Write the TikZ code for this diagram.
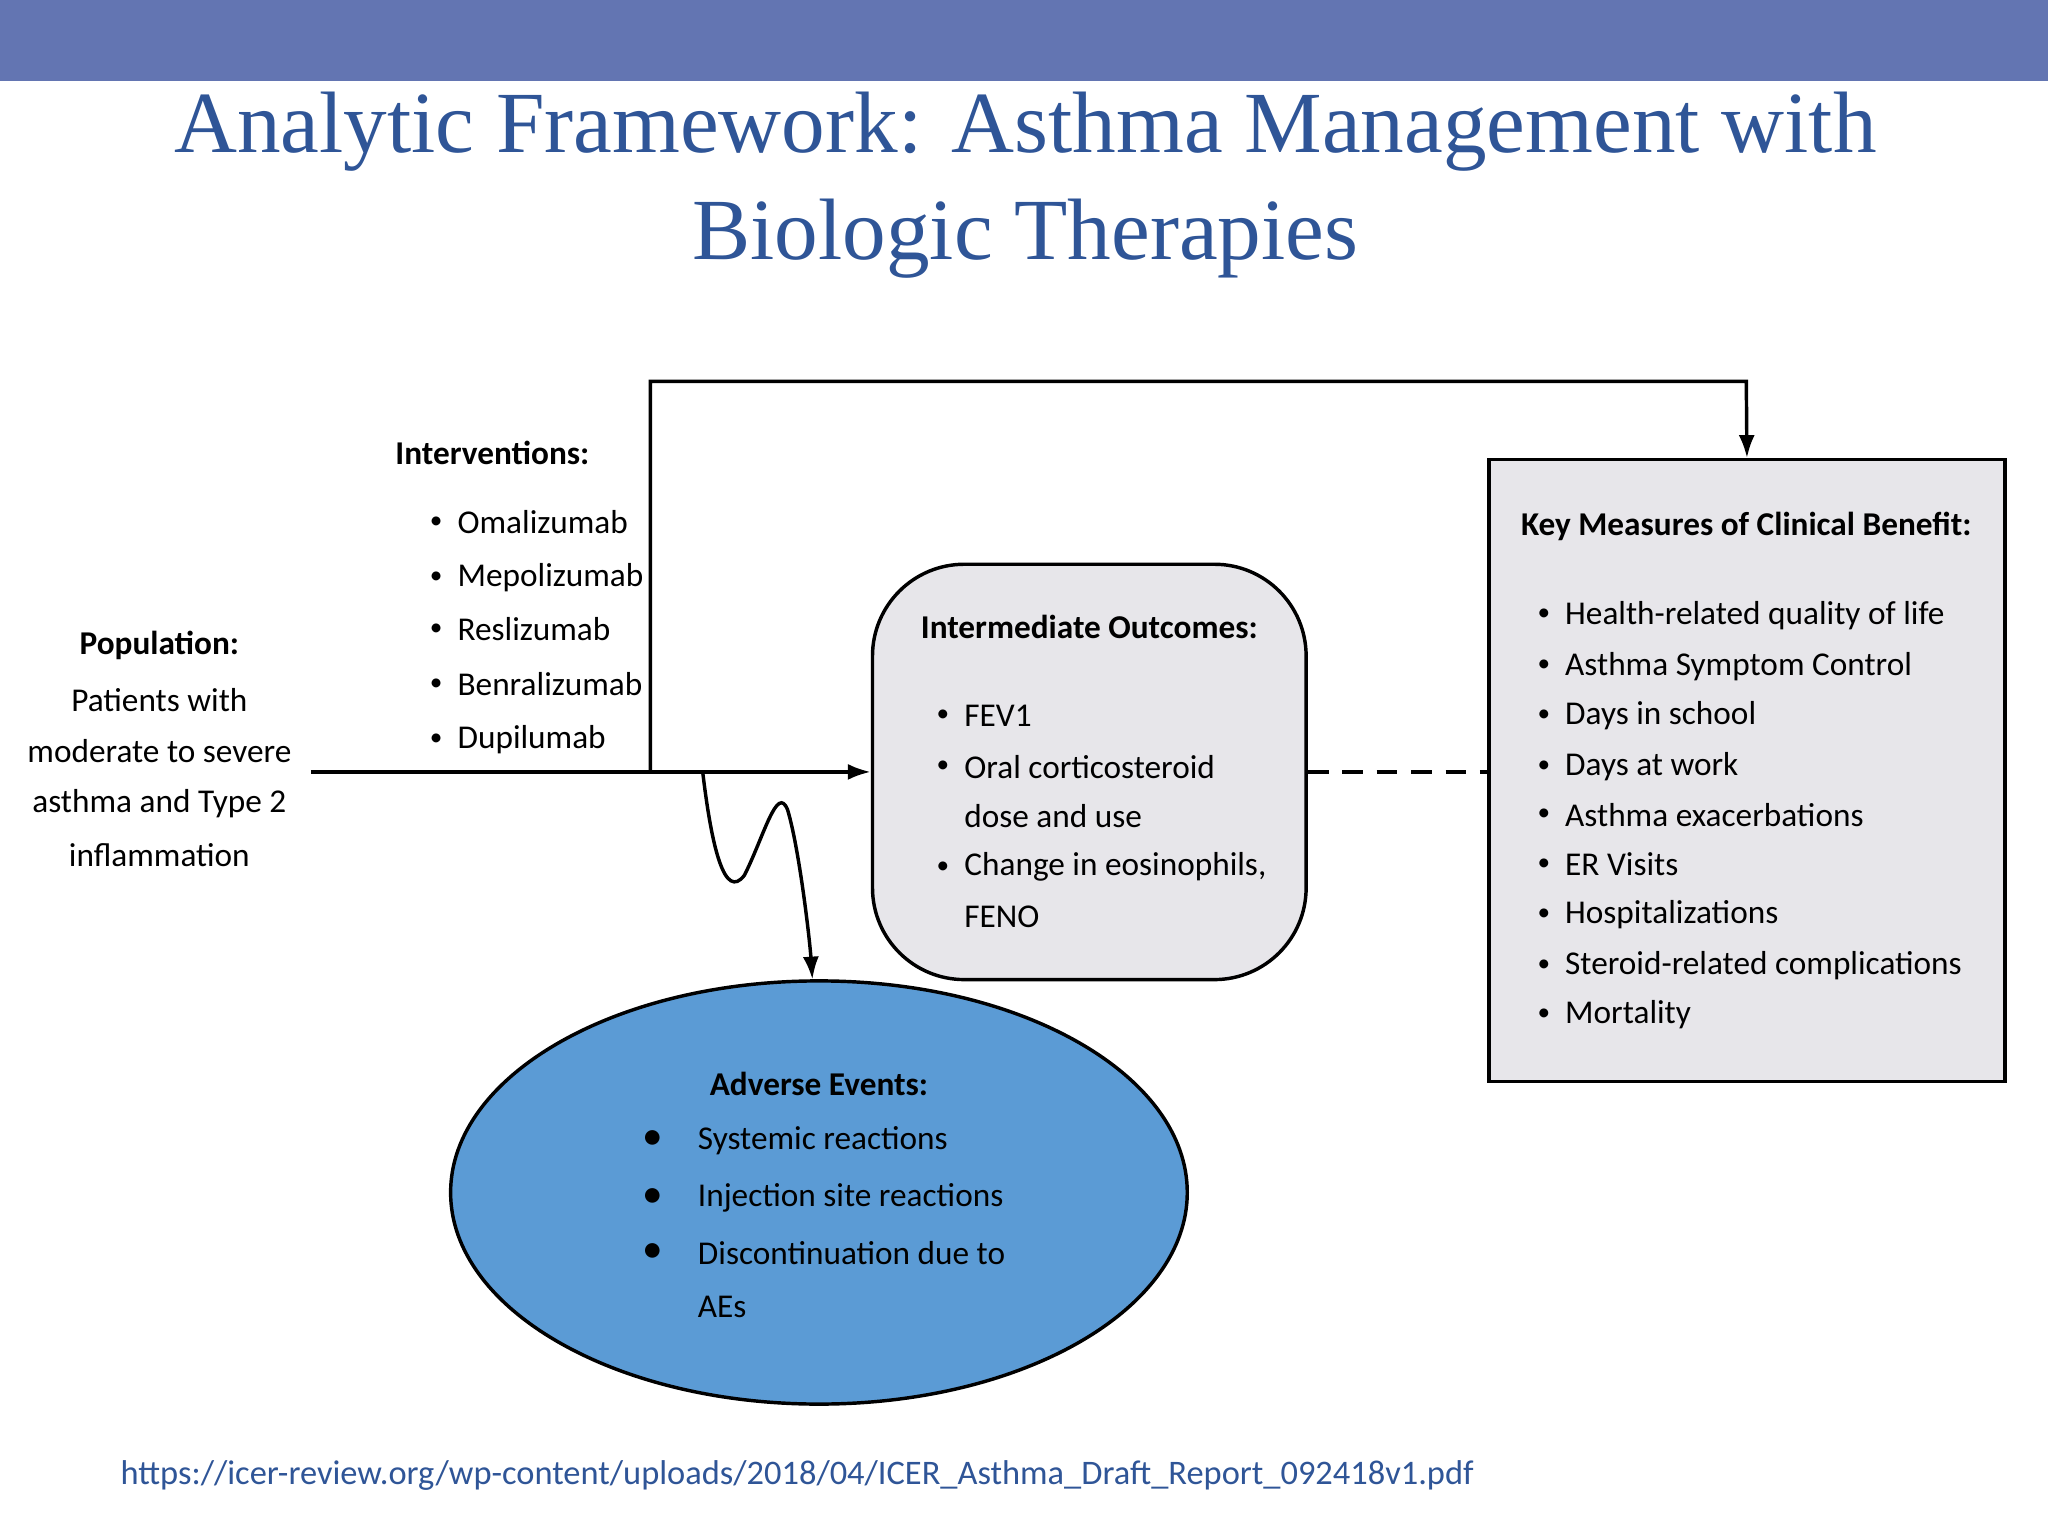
\documentclass[tikz,border=0pt]{standalone}
\usepackage{fontspec}
\setmainfont{Carlito}
\newfontfamily\titlefont{Liberation Serif}
\usetikzlibrary{arrows.meta,shapes.geometric}
\definecolor{barblue}{RGB}{99,117,178}
\definecolor{titleblue}{RGB}{47,85,151}
\definecolor{boxgray}{RGB}{231,230,234}
\definecolor{aeblue}{RGB}{91,155,213}
\begin{document}
\begin{tikzpicture}[x=0.02cm,y=-0.02cm,
  txt/.style={font=\fontsize{14.5}{18}\selectfont,inner sep=0pt},
  bul/.style={font=\fontsize{11}{18}\selectfont,inner sep=0pt},
  hd/.style={font=\fontsize{14.5}{18}\selectfont\bfseries,inner sep=0pt},
  tl/.style={font=\titlefont\fontsize{38}{44}\selectfont,text=titleblue,inner sep=0pt},
  line/.style={line width=1.5pt},
  arr/.style={line width=1.5pt,-{Latex[length=10pt,width=7pt]}}]
\useasboundingbox (0,0) rectangle (1568,1176);
\fill[barblue] (0,0) rectangle (1568,62);
\node[tl] (t1) at (785,101) {Analytic Framework: Asthma Management with};
\node[tl] (t2) at (785,183) {Biologic Therapies};
% population
\node[hd] (pop) at (122,494) {Population:};
\foreach \t/\y in {Patients with/536,moderate to severe/575,asthma and Type 2/615,inflammation/655}
  \node[txt] at (122,\y) {\t};
% interventions
\node[hd] (int) at (377,347) {Interventions:};
\foreach \t/\y in {Omalizumab/400,Mepolizumab/442,Reslizumab/482,Benralizumab/524,Dupilumab/566}{
  \node[bul] at (334,\y) {•};
  \node[txt,anchor=west] at (350,\y) {\t};}
% intermediate box
\node[draw,line width=1.5pt,fill=boxgray,rounded corners=40pt,minimum width=332*0.02cm,minimum height=318*0.02cm] (mid) at (834,591) {};
\node[hd] (midt) at (834,480) {Intermediate Outcomes:};
\foreach \y in {548,587,664}
  \node[bul] at (722,\y) {•};
\foreach \t/\y in {FEV1/548,Oral corticosteroid/587,dose and use/625,{Change in eosinophils,}/664,FENO/702}
  \node[txt,anchor=west] at (738,\y) {\t};
% key box
\node[draw,line width=1.5pt,fill=boxgray,minimum width=395*0.02cm,minimum height=476*0.02cm] (key) at (1337.5,590) {};
\node[hd] (keyt) at (1337,403) {Key Measures of Clinical Benefit:};
\foreach \t/\y in {Health-related quality of life/471,Asthma Symptom Control/510,Days in school/548,Days at work/587,Asthma exacerbations/624,ER Visits/662,Hospitalizations/700,Steroid-related complications/739,Mortality/777}{
  \node[bul] at (1182,\y) {•};
  \node[txt,anchor=west] at (1198,\y) {\t};}
% adverse events
\node[draw,line width=1.5pt,fill=aeblue,ellipse,minimum width=564*0.02cm,minimum height=324*0.02cm] (ae) at (627,913) {};
\node[hd] (aet) at (627,830) {Adverse Events:};
\foreach \y in {873,917,959}
  \node[font=\fontsize{18}{20}\selectfont,inner sep=0pt] at (500,\y) {•};
\foreach \t/\y in {Systemic reactions/873,Injection site reactions/917,Discontinuation due to/959,AEs/1001}
  \node[txt,anchor=west] at (534,\y) {\t};
% connectors
\coordinate (start) at (238,591);
\coordinate (branch) at (498,591);
\coordinate (wig) at (538,591);
\draw[arr] (start) -- (mid.west|-start);
\draw[arr] (branch) -- (498,292) -- (1337,292) -- (key.north);
\draw[line,dash pattern=on 9pt off 6pt] (mid.east|-start) -- (key.west|-start);
\draw[arr] (wig) .. controls (545,650) and (555,690) .. (570,670)
  .. controls (585,640) and (595,600) .. (603,620)
  .. controls (612,650) and (620,720) .. (622,750);
\node[font=\fontsize{15}{18}\selectfont,text=titleblue,anchor=west,inner sep=0pt] (url) at (92,1130) {https://icer-review.org/wp-content/uploads/2018/04/ICER\_Asthma\_Draft\_Report\_092418v1.pdf};
\end{tikzpicture}
\end{document}
